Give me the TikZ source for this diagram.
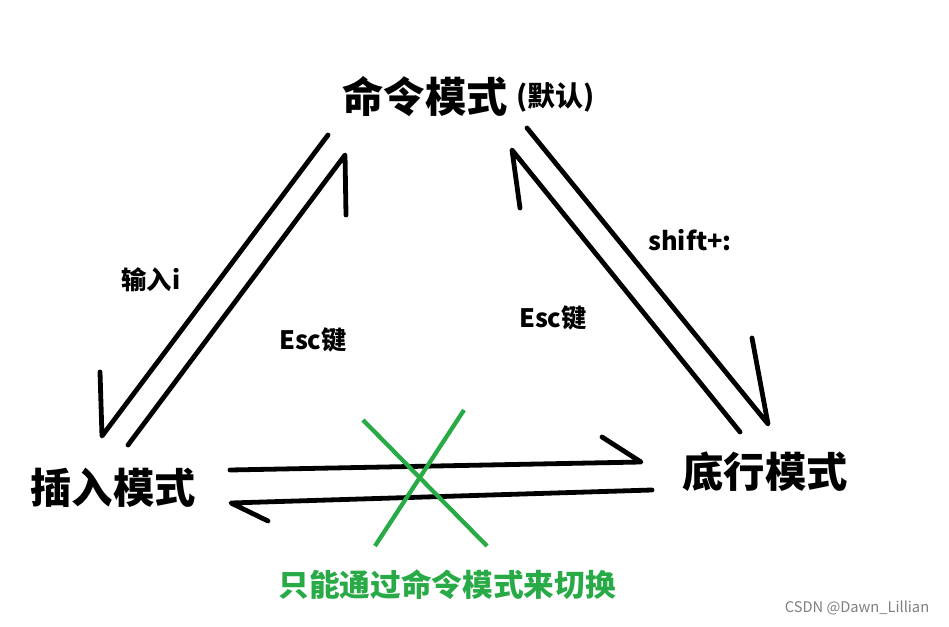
\documentclass[tikz,border=0pt]{standalone}
\usepackage{fontspec}
\setmainfont{Noto Sans CJK SC}
\begin{document}
\begin{tikzpicture}[x=0.75pt,y=-0.75pt,
  stroke/.style={line width=3.6pt,line cap=round,line join=round,black},
  xline/.style={line width=3.2pt,color=xgreen},
  big/.style={font=\fontsize{31}{34}\selectfont\bfseries},
  mid/.style={font=\fontsize{21}{24}\selectfont\bfseries},
  lbl/.style={font=\fontsize{19}{22}\selectfont\bfseries}]
\definecolor{xgreen}{RGB}{40,170,70}
\useasboundingbox (0,0) rectangle (949,627);
\fill[white] (0,0) rectangle (949,627);
\node[big] (cmd) at (425,97) {命令模式};
\node[mid,anchor=west] (def) at (512,97) {(默认)};
\node[big] (ins) at (113,488) {插入模式};
\node[big] (bot) at (765,472) {底行模式};
\node[lbl] (li) at (151,280) {输入i};
\node[lbl] (le1) at (313,340) {Esc键};
\node[lbl] (le2) at (553,318) {Esc键};
\node[lbl] (ls) at (690,240) {shift+:};
\node[font=\fontsize{23}{26}\selectfont\bfseries,text=xgreen] (note) at (447,585) {只能通过命令模式来切换};
\node[font=\fontsize{11}{13}\selectfont,text=gray] (wm) at (857,608) {CSDN @Dawn\_Lillian};
% left pair
\coordinate (a1) at (328,135); \coordinate (a2) at (102,436); \coordinate (a3) at (100,372);
\draw[stroke] (a1) -- (a2) -- (a3);
\coordinate (b1) at (128,445); \coordinate (b2) at (345,155); \coordinate (b3) at (346,215);
\draw[stroke] (b1) -- (b2) -- (b3);
% right pair
\coordinate (c1) at (740,432); \coordinate (c2) at (512,150); \coordinate (c3) at (520,208);
\draw[stroke] (c1) -- (c2) -- (c3);
\coordinate (d1) at (527,128); \coordinate (d2) at (768,424); \coordinate (d3) at (752,338);
\draw[stroke] (d1) -- (d2) -- (d3);
% bottom pair
\coordinate (e1) at (230,470); \coordinate (e2) at (641,462); \coordinate (e3) at (602,437);
\draw[stroke] (e1) -- (e2) -- (e3);
\coordinate (f1) at (652,490); \coordinate (f2) at (231,503); \coordinate (f3) at (268,521);
\draw[stroke] (f1) -- (f2) -- (f3);
% green cross
\coordinate (g1) at (363,420); \coordinate (g2) at (487,546);
\coordinate (g3) at (464,410); \coordinate (g4) at (375,546);
\draw[xline] (g1) -- (g2); \draw[xline] (g3) -- (g4);
\end{tikzpicture}
\end{document}
